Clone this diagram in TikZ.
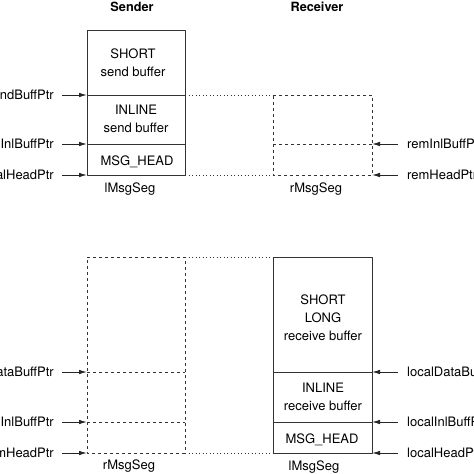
\documentclass[tikz,border=0pt]{standalone}
\usepackage{fontspec}
\setmainfont{TeX Gyre Heros}
\usetikzlibrary{arrows.meta}

\begin{document}
\begin{tikzpicture}[
        x = 1pt, y = -1pt,
        line join=round,
        font = \fontsize{13}{18}\selectfont,
        seg/.style = {draw=black!80, line width=0.9pt},
        ghost/.style = {draw=black!80, line width=0.9pt, dash pattern=on 3pt off 3pt},
        link/.style = {draw=black!80, line width=0.9pt, dash pattern=on 1pt off 2.5pt},
        ptr/.style = {-{Latex[length=8pt,width=4.5pt]}, draw=black!85, line width=0.9pt, shorten <=6pt},
        lptr/.style = {anchor=east, inner sep=2pt},
        rptr/.style = {anchor=west, inner sep=3pt},
        buf/.style = {align=center, inner sep=1pt}
    ]

    \useasboundingbox (0,0) rectangle (474,474);

    % upper half: sender box
        \coordinate (s1) at (87,30);
        \coordinate (s2) at (185,30);
        \coordinate (s3) at (87,95);
        \coordinate (s4) at (185,95);
        \coordinate (s5) at (87,144);
        \coordinate (s6) at (185,144);
        \coordinate (s7) at (87,175);
        \coordinate (s8) at (185,175);
    % upper half: remote copy at receiver
        \coordinate (r3) at (273,95);
        \coordinate (r4) at (372,95);
        \coordinate (r5) at (273,144);
        \coordinate (r6) at (372,144);
        \coordinate (r7) at (273,175);
        \coordinate (r8) at (372,175);

    \node[font=\fontsize{12.7}{14}\bfseries] (sender) at (132,7) {Sender};
    \node[font=\fontsize{12.7}{14}\bfseries] (receiver) at (317,7) {Receiver};

    \draw[seg] (s1) rectangle (s8);
    \draw[seg] (s3) -- (s4);
    \draw[seg] (s5) -- (s6);
    \draw[link] (s4) -- (r3);
    \draw[link] (s8) -- (r7);
    \draw[ghost] (r3) -- (r4) -- (r8) -- (r7) -- cycle;
    \draw[ghost] (r5) -- (r6);

    \node[buf] (sshort) at (133,62.5) {SHORT\\send buffer};
    \node[buf] (sinline) at (136,119) {INLINE\\send buffer};
    \node[buf] (shead) at (137,162) {MSG\_HEAD};
    \node (lseg) at (130,189) {lMsgSeg};
    \node (rseg) at (316,189) {rMsgSeg};

    \foreach \c/\txt in {s3/localSendBuffPtr, s5/localInlBuffPtr, s7/localHeadPtr} {
        \node[lptr] (\c-lbl) at ([xshift=-31pt]\c) {\txt};
        \draw[ptr] (\c-lbl.east) -- (\c);
    }
    \foreach \c/\txt in {r6/remInlBuffPtr, r8/remHeadPtr} {
        \node[rptr] (\c-lbl) at ([xshift=32pt]\c) {\txt};
        \draw[ptr] (\c-lbl.west) -- (\c);
    }

    % lower half: remote copy at sender
        \coordinate (t1) at (87,257);
        \coordinate (t2) at (185,257);
        \coordinate (t3) at (87,372);
        \coordinate (t4) at (185,372);
        \coordinate (t5) at (87,422);
        \coordinate (t6) at (185,422);
        \coordinate (t7) at (87,453);
        \coordinate (t8) at (185,453);
    % lower half: receiver box
        \coordinate (u1) at (273,257);
        \coordinate (u2) at (372,257);
        \coordinate (u3) at (273,372);
        \coordinate (u4) at (372,372);
        \coordinate (u5) at (273,422);
        \coordinate (u6) at (372,422);
        \coordinate (u7) at (273,453);
        \coordinate (u8) at (372,453);

    \draw[ghost] (t1) -- (t2) -- (t8) -- (t7) -- cycle;
    \draw[ghost] (t3) -- (t4);
    \draw[ghost] (t5) -- (t6);
    \draw[link] (t2) -- (u1);
    \draw[link] (t8) -- (u7);
    \draw[seg] (u1) rectangle (u8);
    \draw[seg] (u3) -- (u4);
    \draw[seg] (u5) -- (u6);

    \node[buf] (rlong) at (323,317.5) {SHORT\\LONG\\receive buffer};
    \node[buf] (rinline) at (323,397) {INLINE\\receive buffer};
    \node[buf] (rhead) at (322,440) {MSG\_HEAD};
    \node (rseg2) at (129,466) {rMsgSeg};
    \node (lseg2) at (314,467) {lMsgSeg};

    \foreach \c/\txt in {t3/remDataBuffPtr, t5/remInlBuffPtr, t7/remHeadPtr} {
        \node[lptr] (\c-lbl) at ([xshift=-31pt]\c) {\txt};
        \draw[ptr] (\c-lbl.east) -- (\c);
    }
    \foreach \c/\txt in {u4/localDataBuffPtr, u6/localInlBuffPtr, u8/localHeadPtr} {
        \node[rptr] (\c-lbl) at ([xshift=32pt]\c) {\txt};
        \draw[ptr] (\c-lbl.west) -- (\c);
    }

\end{tikzpicture}
\end{document}
